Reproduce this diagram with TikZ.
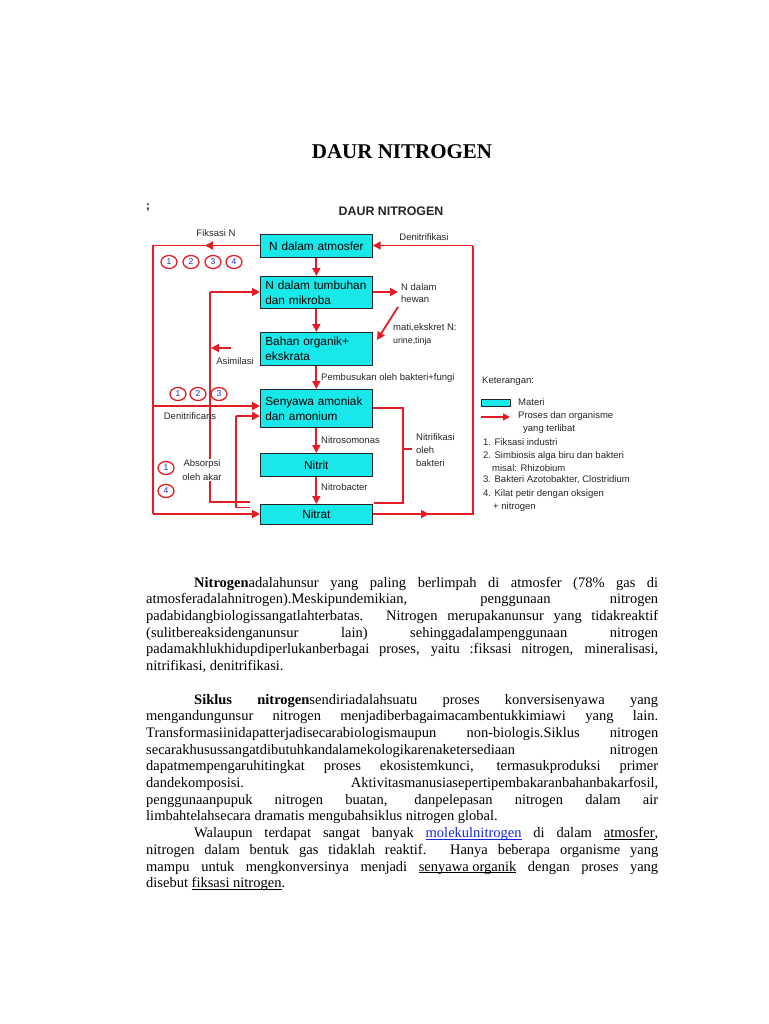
\documentclass[tikz,border=0pt]{standalone}
\usepackage{fontspec}
\setmainfont{Liberation Serif}
\setsansfont{Liberation Sans}
\usetikzlibrary{arrows.meta,shapes.geometric}
\definecolor{boxcyan}{RGB}{25,232,235}
\definecolor{arrred}{RGB}{228,28,36}
\definecolor{numblue}{RGB}{40,40,200}
\definecolor{linkblue}{RGB}{20,40,220}
\newcommand\myul[1]{\setbox0\hbox{#1}\rlap{\rule[-2pt]{\wd0}{0.6pt}}\box0\relax}
\begin{document}
\begin{tikzpicture}[x=1pt,y=-1pt,
  box/.style={draw=black!85, line width=0.7pt, fill=boxcyan, inner xsep=5pt, inner ysep=0pt,
    text width=102pt, font=\sffamily\fontsize{11.8}{15}\selectfont, anchor=north west},
  arr/.style={draw=arrred, line width=1.8pt, -{Triangle[length=8pt,width=8pt]}},
  ln/.style={draw=arrred, line width=1.8pt},
  lbl/.style={font=\sffamily\fontsize{9.5}{12.5}\selectfont, text=black!85, inner sep=0pt, align=left},
  leg/.style={font=\sffamily\fontsize{9.5}{12}\selectfont, text=black!85, inner sep=0pt, anchor=west},
  circ/.style={draw=arrred, line width=1.3pt, ellipse, minimum width=16pt, minimum height=13pt,
    inner sep=0pt, text=numblue, font=\sffamily\fontsize{8.5}{8.5}\selectfont},
  para/.style={anchor=base west, inner sep=0pt, font=\fontsize{14.5}{16.7}\selectfont}]
\useasboundingbox (0,0) rectangle (768,1024);
\fill[white] (0,0) rectangle (768,1024);

% main title
\node[anchor=base, inner sep=0pt, font=\fontsize{21}{21}\selectfont\bfseries] (title) at (402,159) {DAUR NITROGEN};

% diagram title
\node[inner sep=0pt, font=\sffamily\bfseries\fontsize{12.4}{12.4}\selectfont, text=black!85] (dtitle) at (391,211) {DAUR NITROGEN};
\node[inner sep=0pt, font=\sffamily\bfseries\fontsize{11}{11}\selectfont] (semi) at (148,208) {;};

% boxes
\node[box, minimum height=23pt, align=center] (b1) at (260,234) {\mbox{N dalam atmosfer}};
\node[box, minimum height=32pt, align=left] (b2) at (260,276) {\mbox{N dalam tumbuhan}\\\mbox{dan mikroba}};
\node[box, minimum height=33pt, align=left] (b3) at (260,332) {\mbox{Bahan organik+}\\ekskrata};
\node[box, minimum height=38pt, align=left] (b4) at (260,389) {\mbox{Senyawa amoniak}\\\mbox{dan amonium}};
\node[box, minimum height=23pt, align=center] (b5) at (260,453) {Nitrit};
\node[box, minimum height=20pt, align=center] (b6) at (260,504) {Nitrat};

% vertical arrows
\draw[arr] (b1.south) -- (b2.north);
\draw[arr] (b2.south) -- (b3.north);
\draw[arr] (b3.south) -- (b4.north);
\draw[arr] (b4.south) -- (b5.north);
\draw[arr] (b5.south) -- (b6.north);

% junction coordinates
\coordinate (fixhead) at (205,245.5);
\coordinate (Ltop) at (153,245.5);
\coordinate (Lmid) at (153,406);
\coordinate (Lbot) at (153,514);
\coordinate (Aa) at (250,502);
\coordinate (Ab) at (210,502);
\coordinate (Ac) at (210,292);
\coordinate (Da) at (250,507.5);
\coordinate (Db) at (236,507.5);
\coordinate (Dc) at (236,416);
\coordinate (Ra) at (429,514);
\coordinate (Rb) at (424,514);
\coordinate (Rc) at (473,514);
\coordinate (Rd) at (473,245.5);
\coordinate (Na) at (403,408);
\coordinate (Nb) at (403,503);
\coordinate (Nc) at (374,503);
\coordinate (Nt) at (412,449);
\coordinate (Nm) at (403,449);
\coordinate (hewan) at (398,292);
\coordinate (dga) at (398,307);
\coordinate (dgb) at (377,340);
\coordinate (asa) at (231,348);
\coordinate (asb) at (211,348);

% fixation (left loop)
\draw[arr] (b1.west |- fixhead) -- (fixhead);
\draw[ln] ([xshift=4pt]fixhead) -- (Ltop) -- (Lbot);
\draw[arr] (Lbot) -- (b6.west |- Lbot);
\draw[arr] (Lmid) -- (b4.west |- Lmid);

% absorption line to b2
\draw[ln] (Aa) -- (Ab) -- (Ac);
\draw[arr] (Ac) -- (b2.west |- Ac);
% denitrificans line to b4
\draw[ln] (Da) -- (Db) -- (Dc);
\draw[arr] (Dc) -- (b4.west |- Dc);
% asimilasi
\draw[arr] (asa) -- (asb);

% right loop (denitrifikasi)
\draw[arr] (b6.east |- Ra) -- (Ra);
\draw[ln] (Rb) -- (Rc) -- (Rd);
\draw[arr] (Rd) -- (b1.east |- Rd);

% nitrification bracket
\draw[ln] (b4.east |- Na) -- (Na) -- (Nb) -- (Nc);
\draw[ln] (Nm) -- (Nt);

% animals
\draw[arr] (b2.east |- hewan) -- (hewan);
\draw[arr] (dga) -- (dgb);

% labels
\node[lbl] (lfix) at (216,233) {Fiksasi N};
\node[lbl] (ldenk) at (424,237) {Denitrifikasi};
\node[lbl, anchor=west] (lhewan) at (401,293) {N dalam\\hewan};
\node[lbl, anchor=west] (lmati) at (393,328) {mati,ekskret N:};
\node[lbl, anchor=west, font=\sffamily\fontsize{8.8}{10}\selectfont] (lurine) at (393,341) {urine,tinja};
\node[lbl] (lasim) at (235,361) {Asimilasi};
\node[lbl, anchor=west] (lpemb) at (321,378) {Pembusukan oleh bakteri+fungi};
\node[lbl] (ldenc) at (190,416) {Denitrificans};
\node[lbl, anchor=west] (lnitros) at (321,440) {Nitrosomonas};
\node[lbl, anchor=west] (lnitrob) at (321,487) {Nitrobacter};
\node[lbl, anchor=west, font=\sffamily\fontsize{9.5}{13}\selectfont] (lnitrif) at (416,450) {Nitrifikasi\\oleh\\bakteri};
\node[lbl, align=center, fill=white, inner sep=1pt, font=\sffamily\fontsize{9.5}{14}\selectfont] (labs) at (202,470) {Absorpsi\\oleh akar};

% numbered circles
\node[circ] (c11) at (169,262) {1};
\node[circ] (c12) at (191,262) {2};
\node[circ] (c13) at (213,262) {3};
\node[circ] (c14) at (234,262) {4};
\node[circ] (c21) at (178,394) {1};
\node[circ] (c22) at (198,394) {2};
\node[circ] (c23) at (219,394) {3};
\node[circ] (c31) at (166,468) {1};
\node[circ] (c34) at (166,491) {4};

% legend
\node[leg] (k0) at (482,381) {Keterangan:};
\node[draw=black!85, line width=0.8pt, fill=boxcyan, anchor=north west, minimum width=29pt, minimum height=7pt, inner sep=0pt] (kbox) at (481,399) {};
\node[leg] (k1) at (518,402) {Materi};
\coordinate (karr) at (481,417);
\draw[draw=arrred, line width=1.3pt, -{Triangle[length=7pt,width=7pt]}] (karr) -- ++(29,0);
\node[leg] (k2) at (518,416) {Proses dan organisme};
\node[leg] (k3) at (523,429) {yang terlibat};
\node[leg] (k4) at (483,442) {1. Fiksasi industri};
\node[leg] (k5) at (483,456) {2. Simbiosis alga biru dan bakteri};
\node[leg] (k6) at (492,468) {misal: Rhizobium};
\node[leg] (k7) at (483,480) {3. Bakteri Azotobakter, Clostridium};
\node[leg] (k8) at (483,494) {4. Kilat petir dengan oksigen};
\node[leg] (k9) at (493,507) {+ nitrogen};

% paragraphs
\node[para] (p1a) at (194,587) {\makebox[464pt][s]{\textbf{Nitrogen}adalahunsur yang paling berlimpah di atmosfer (78\% gas di}};
\node[para] (p1b) at (146,603.7) {\makebox[512pt][s]{atmosferadalahnitrogen).Meskipundemikian, penggunaan nitrogen}};
\node[para] (p1c) at (146,620.4) {\makebox[512pt][s]{padabidangbiologissangatlahterbatas. Nitrogen merupakanunsur yang tidakreaktif}};
\node[para] (p1d) at (146,637.1) {\makebox[512pt][s]{(sulitbereaksidenganunsur lain) sehinggadalampenggunaan nitrogen}};
\node[para] (p1e) at (146,653.8) {\makebox[512pt][s]{padamakhlukhidupdiperlukanberbagai proses, yaitu :fiksasi nitrogen, mineralisasi,}};
\node[para] (p1f) at (146,670.5) {nitrifikasi, denitrifikasi.};

\node[para] (p2a) at (194,704) {\makebox[464pt][s]{\textbf{Siklus nitrogen}sendiriadalahsuatu proses konversisenyawa yang}};
\node[para] (p2b) at (146,720.7) {\makebox[512pt][s]{mengandungunsur nitrogen menjadiberbagaimacambentukkimiawi yang lain.}};
\node[para] (p2c) at (146,737.4) {\makebox[512pt][s]{Transformasiinidapatterjadisecarabiologismaupun non-biologis.Siklus nitrogen}};
\node[para] (p2d) at (146,754.1) {\makebox[512pt][s]{secarakhusussangatdibutuhkandalamekologikarenaketersediaan nitrogen}};
\node[para] (p2e) at (146,770.8) {\makebox[512pt][s]{dapatmempengaruhitingkat proses ekosistemkunci, termasukproduksi primer}};
\node[para] (p2f) at (146,787.5) {\makebox[512pt][s]{dandekomposisi. Aktivitasmanusiasepertipembakaranbahanbakarfosil,}};
\node[para] (p2g) at (146,804.2) {\makebox[512pt][s]{penggunaanpupuk nitrogen buatan, danpelepasan nitrogen dalam air}};
\node[para] (p2h) at (146,820.9) {limbahtelahsecara dramatis mengubahsiklus nitrogen global.};

\node[para] (p3a) at (194,837.6) {\makebox[464pt][s]{Walaupun terdapat sangat banyak \textcolor{linkblue}{\myul{molekulnitrogen}} di dalam \myul{atmosfer},}};
\node[para] (p3b) at (146,854.3) {\makebox[512pt][s]{nitrogen dalam bentuk gas tidaklah reaktif. Hanya beberapa organisme yang}};
\node[para] (p3c) at (146,871) {\makebox[512pt][s]{mampu untuk mengkonversinya menjadi \myul{senyawa organik} dengan proses yang}};
\node[para] (p3d) at (146,887.7) {disebut \myul{fiksasi nitrogen}.};
\end{tikzpicture}
\end{document}
